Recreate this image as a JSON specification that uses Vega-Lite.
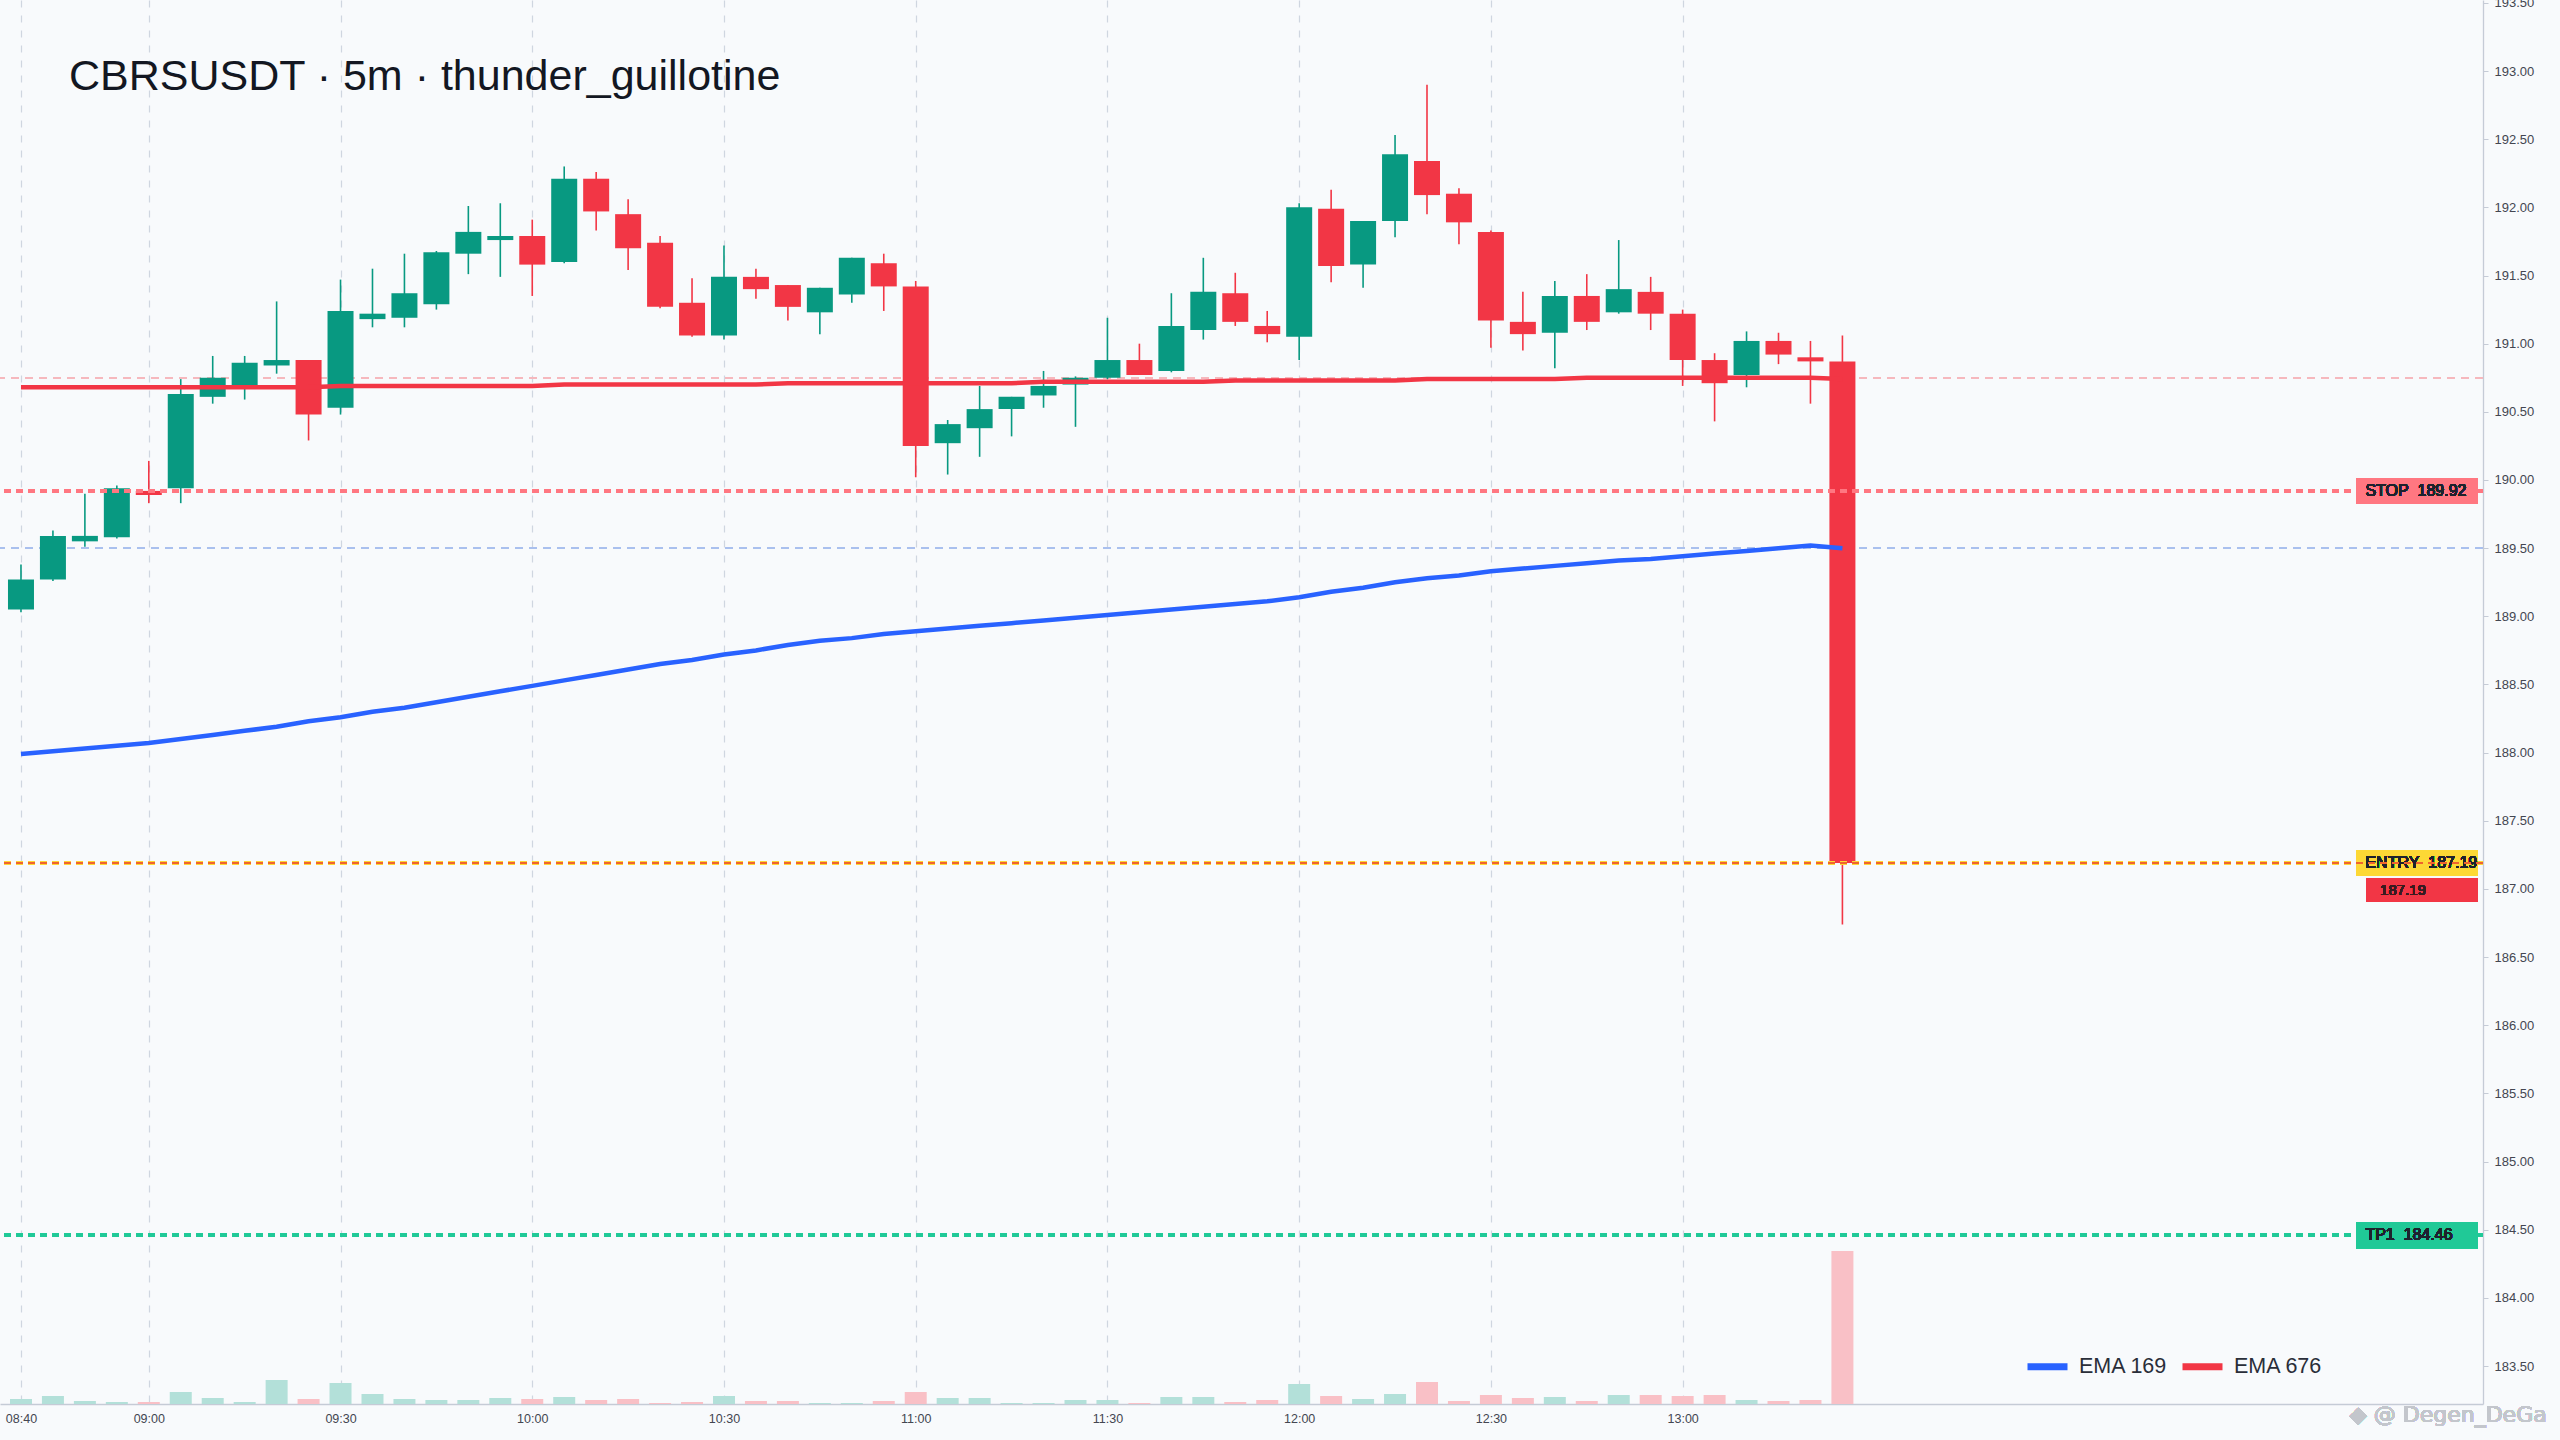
{
  "$schema": "https://vega.github.io/schema/vega-lite/v6.json",
  "width": 2483,
  "height": 1404,
  "autosize": {"type": "none"},
  "padding": {"left": 0, "top": 0, "right": 77, "bottom": 36},
  "background": "#f8fafc",
  "config": {
    "view": {"stroke": null},
    "font": "Liberation Sans"
  },
  "title": {
    "text": "CBRSUSDT · 5m · thunder_guillotine",
    "anchor": "start",
    "frame": "group",
    "orient": "top",
    "offset": 0,
    "dx": 69,
    "dy": 136,
    "baseline": "alphabetic",
    "fontSize": 43,
    "fontWeight": "normal",
    "color": "#131722",
    "font": "Liberation Sans"
  },
  "data": {
    "values": [
      {"t": "2024-01-01T08:40:00", "o": 189.05, "h": 189.38, "l": 189.03, "c": 189.27, "v": 500, "EMA 169": 187.99, "EMA 676": 190.68},
      {"t": "2024-01-01T08:45:00", "o": 189.27, "h": 189.63, "l": 189.26, "c": 189.59, "v": 800, "EMA 169": 188.01, "EMA 676": 190.68},
      {"t": "2024-01-01T08:50:00", "o": 189.55, "h": 189.90, "l": 189.51, "c": 189.59, "v": 300, "EMA 169": 188.03, "EMA 676": 190.68},
      {"t": "2024-01-01T08:55:00", "o": 189.58, "h": 189.96, "l": 189.57, "c": 189.94, "v": 200, "EMA 169": 188.05, "EMA 676": 190.68},
      {"t": "2024-01-01T09:00:00", "o": 189.92, "h": 190.14, "l": 189.83, "c": 189.89, "v": 200, "EMA 169": 188.07, "EMA 676": 190.68},
      {"t": "2024-01-01T09:05:00", "o": 189.94, "h": 190.74, "l": 189.83, "c": 190.63, "v": 1200, "EMA 169": 188.10, "EMA 676": 190.68},
      {"t": "2024-01-01T09:10:00", "o": 190.61, "h": 190.91, "l": 190.56, "c": 190.75, "v": 600, "EMA 169": 188.13, "EMA 676": 190.68},
      {"t": "2024-01-01T09:15:00", "o": 190.69, "h": 190.91, "l": 190.59, "c": 190.86, "v": 200, "EMA 169": 188.16, "EMA 676": 190.68},
      {"t": "2024-01-01T09:20:00", "o": 190.84, "h": 191.31, "l": 190.78, "c": 190.88, "v": 2400, "EMA 169": 188.19, "EMA 676": 190.68},
      {"t": "2024-01-01T09:25:00", "o": 190.88, "h": 190.88, "l": 190.29, "c": 190.48, "v": 500, "EMA 169": 188.23, "EMA 676": 190.68},
      {"t": "2024-01-01T09:30:00", "o": 190.53, "h": 191.47, "l": 190.48, "c": 191.24, "v": 2100, "EMA 169": 188.26, "EMA 676": 190.69},
      {"t": "2024-01-01T09:35:00", "o": 191.18, "h": 191.55, "l": 191.12, "c": 191.22, "v": 1000, "EMA 169": 188.30, "EMA 676": 190.69},
      {"t": "2024-01-01T09:40:00", "o": 191.19, "h": 191.66, "l": 191.12, "c": 191.37, "v": 500, "EMA 169": 188.33, "EMA 676": 190.69},
      {"t": "2024-01-01T09:45:00", "o": 191.29, "h": 191.68, "l": 191.25, "c": 191.67, "v": 400, "EMA 169": 188.37, "EMA 676": 190.69},
      {"t": "2024-01-01T09:50:00", "o": 191.66, "h": 192.01, "l": 191.51, "c": 191.82, "v": 400, "EMA 169": 188.41, "EMA 676": 190.69},
      {"t": "2024-01-01T09:55:00", "o": 191.76, "h": 192.03, "l": 191.49, "c": 191.79, "v": 600, "EMA 169": 188.45, "EMA 676": 190.69},
      {"t": "2024-01-01T10:00:00", "o": 191.79, "h": 191.91, "l": 191.35, "c": 191.58, "v": 500, "EMA 169": 188.49, "EMA 676": 190.69},
      {"t": "2024-01-01T10:05:00", "o": 191.60, "h": 192.30, "l": 191.59, "c": 192.21, "v": 700, "EMA 169": 188.53, "EMA 676": 190.70},
      {"t": "2024-01-01T10:10:00", "o": 192.21, "h": 192.26, "l": 191.83, "c": 191.97, "v": 400, "EMA 169": 188.57, "EMA 676": 190.70},
      {"t": "2024-01-01T10:15:00", "o": 191.95, "h": 192.06, "l": 191.54, "c": 191.70, "v": 500, "EMA 169": 188.61, "EMA 676": 190.70},
      {"t": "2024-01-01T10:20:00", "o": 191.74, "h": 191.79, "l": 191.26, "c": 191.27, "v": 100, "EMA 169": 188.65, "EMA 676": 190.70},
      {"t": "2024-01-01T10:25:00", "o": 191.30, "h": 191.48, "l": 191.05, "c": 191.06, "v": 200, "EMA 169": 188.68, "EMA 676": 190.70},
      {"t": "2024-01-01T10:30:00", "o": 191.06, "h": 191.72, "l": 191.03, "c": 191.49, "v": 800, "EMA 169": 188.72, "EMA 676": 190.70},
      {"t": "2024-01-01T10:35:00", "o": 191.49, "h": 191.55, "l": 191.33, "c": 191.40, "v": 300, "EMA 169": 188.75, "EMA 676": 190.70},
      {"t": "2024-01-01T10:40:00", "o": 191.43, "h": 191.43, "l": 191.17, "c": 191.27, "v": 300, "EMA 169": 188.79, "EMA 676": 190.71},
      {"t": "2024-01-01T10:45:00", "o": 191.23, "h": 191.41, "l": 191.07, "c": 191.41, "v": 100, "EMA 169": 188.82, "EMA 676": 190.71},
      {"t": "2024-01-01T10:50:00", "o": 191.36, "h": 191.63, "l": 191.30, "c": 191.63, "v": 100, "EMA 169": 188.84, "EMA 676": 190.71},
      {"t": "2024-01-01T10:55:00", "o": 191.59, "h": 191.66, "l": 191.24, "c": 191.42, "v": 300, "EMA 169": 188.87, "EMA 676": 190.71},
      {"t": "2024-01-01T11:00:00", "o": 191.42, "h": 191.46, "l": 190.02, "c": 190.25, "v": 1200, "EMA 169": 188.89, "EMA 676": 190.71},
      {"t": "2024-01-01T11:05:00", "o": 190.27, "h": 190.44, "l": 190.04, "c": 190.41, "v": 600, "EMA 169": 188.91, "EMA 676": 190.71},
      {"t": "2024-01-01T11:10:00", "o": 190.38, "h": 190.69, "l": 190.17, "c": 190.52, "v": 600, "EMA 169": 188.93, "EMA 676": 190.71},
      {"t": "2024-01-01T11:15:00", "o": 190.52, "h": 190.61, "l": 190.32, "c": 190.61, "v": 100, "EMA 169": 188.95, "EMA 676": 190.71},
      {"t": "2024-01-01T11:20:00", "o": 190.62, "h": 190.80, "l": 190.53, "c": 190.69, "v": 100, "EMA 169": 188.97, "EMA 676": 190.72},
      {"t": "2024-01-01T11:25:00", "o": 190.70, "h": 190.76, "l": 190.39, "c": 190.75, "v": 400, "EMA 169": 188.99, "EMA 676": 190.72},
      {"t": "2024-01-01T11:30:00", "o": 190.75, "h": 191.19, "l": 190.74, "c": 190.88, "v": 400, "EMA 169": 189.01, "EMA 676": 190.72},
      {"t": "2024-01-01T11:35:00", "o": 190.88, "h": 191.00, "l": 190.77, "c": 190.77, "v": 100, "EMA 169": 189.03, "EMA 676": 190.72},
      {"t": "2024-01-01T11:40:00", "o": 190.80, "h": 191.37, "l": 190.79, "c": 191.13, "v": 700, "EMA 169": 189.05, "EMA 676": 190.72},
      {"t": "2024-01-01T11:45:00", "o": 191.10, "h": 191.63, "l": 191.03, "c": 191.38, "v": 700, "EMA 169": 189.07, "EMA 676": 190.72},
      {"t": "2024-01-01T11:50:00", "o": 191.37, "h": 191.52, "l": 191.13, "c": 191.16, "v": 200, "EMA 169": 189.09, "EMA 676": 190.73},
      {"t": "2024-01-01T11:55:00", "o": 191.13, "h": 191.24, "l": 191.01, "c": 191.07, "v": 400, "EMA 169": 189.11, "EMA 676": 190.73},
      {"t": "2024-01-01T12:00:00", "o": 191.05, "h": 192.03, "l": 190.88, "c": 192.00, "v": 2000, "EMA 169": 189.14, "EMA 676": 190.73},
      {"t": "2024-01-01T12:05:00", "o": 191.99, "h": 192.13, "l": 191.45, "c": 191.57, "v": 800, "EMA 169": 189.18, "EMA 676": 190.73},
      {"t": "2024-01-01T12:10:00", "o": 191.58, "h": 191.90, "l": 191.41, "c": 191.90, "v": 500, "EMA 169": 189.21, "EMA 676": 190.73},
      {"t": "2024-01-01T12:15:00", "o": 191.90, "h": 192.53, "l": 191.78, "c": 192.39, "v": 1000, "EMA 169": 189.25, "EMA 676": 190.73},
      {"t": "2024-01-01T12:20:00", "o": 192.34, "h": 192.90, "l": 191.95, "c": 192.09, "v": 2200, "EMA 169": 189.28, "EMA 676": 190.74},
      {"t": "2024-01-01T12:25:00", "o": 192.10, "h": 192.14, "l": 191.73, "c": 191.89, "v": 300, "EMA 169": 189.30, "EMA 676": 190.74},
      {"t": "2024-01-01T12:30:00", "o": 191.82, "h": 191.83, "l": 190.97, "c": 191.17, "v": 900, "EMA 169": 189.33, "EMA 676": 190.74},
      {"t": "2024-01-01T12:35:00", "o": 191.16, "h": 191.38, "l": 190.95, "c": 191.07, "v": 600, "EMA 169": 189.35, "EMA 676": 190.74},
      {"t": "2024-01-01T12:40:00", "o": 191.08, "h": 191.46, "l": 190.82, "c": 191.35, "v": 700, "EMA 169": 189.37, "EMA 676": 190.74},
      {"t": "2024-01-01T12:45:00", "o": 191.35, "h": 191.51, "l": 191.10, "c": 191.16, "v": 300, "EMA 169": 189.39, "EMA 676": 190.75},
      {"t": "2024-01-01T12:50:00", "o": 191.23, "h": 191.76, "l": 191.22, "c": 191.40, "v": 900, "EMA 169": 189.41, "EMA 676": 190.75},
      {"t": "2024-01-01T12:55:00", "o": 191.38, "h": 191.49, "l": 191.10, "c": 191.22, "v": 900, "EMA 169": 189.42, "EMA 676": 190.75},
      {"t": "2024-01-01T13:00:00", "o": 191.22, "h": 191.25, "l": 190.69, "c": 190.88, "v": 800, "EMA 169": 189.44, "EMA 676": 190.75},
      {"t": "2024-01-01T13:05:00", "o": 190.88, "h": 190.93, "l": 190.43, "c": 190.71, "v": 900, "EMA 169": 189.46, "EMA 676": 190.75},
      {"t": "2024-01-01T13:10:00", "o": 190.77, "h": 191.09, "l": 190.68, "c": 191.02, "v": 400, "EMA 169": 189.48, "EMA 676": 190.75},
      {"t": "2024-01-01T13:15:00", "o": 191.02, "h": 191.08, "l": 190.85, "c": 190.92, "v": 300, "EMA 169": 189.50, "EMA 676": 190.75},
      {"t": "2024-01-01T13:20:00", "o": 190.90, "h": 191.02, "l": 190.56, "c": 190.87, "v": 400, "EMA 169": 189.52, "EMA 676": 190.75},
      {"t": "2024-01-01T13:25:00", "o": 190.87, "h": 191.06, "l": 186.74, "c": 187.19, "v": 15300, "EMA 169": 189.50, "EMA 676": 190.74}
    ]
  },
  "layer": [
    {
      "mark": {"type": "bar", "width": 22},
      "encoding": {
        "x": {
          "field": "t",
          "type": "temporal",
          "scale": {
            "domain": [
              {"year": 2024, "month": 1, "date": 1, "hours": 8, "minutes": 37, "seconds": 30},
              {"year": 2024, "month": 1, "date": 1, "hours": 15, "minutes": 4, "seconds": 27}
            ],
            "nice": false
          },
          "axis": {
            "orient": "bottom",
            "title": null,
            "values": [
              {"year": 2024, "month": 1, "date": 1, "hours": 8, "minutes": 40},
              {"year": 2024, "month": 1, "date": 1, "hours": 9, "minutes": 0},
              {"year": 2024, "month": 1, "date": 1, "hours": 9, "minutes": 30},
              {"year": 2024, "month": 1, "date": 1, "hours": 10, "minutes": 0},
              {"year": 2024, "month": 1, "date": 1, "hours": 10, "minutes": 30},
              {"year": 2024, "month": 1, "date": 1, "hours": 11, "minutes": 0},
              {"year": 2024, "month": 1, "date": 1, "hours": 11, "minutes": 30},
              {"year": 2024, "month": 1, "date": 1, "hours": 12, "minutes": 0},
              {"year": 2024, "month": 1, "date": 1, "hours": 12, "minutes": 30},
              {"year": 2024, "month": 1, "date": 1, "hours": 13, "minutes": 0}
            ],
            "format": "%H:%M",
            "labelFont": "Liberation Sans",
            "labelFontSize": 12.5,
            "labelColor": "#434651",
            "labelPadding": 8,
            "labelFlush": 20,
            "labelFlushOffset": 8,
            "labelOverlap": false,
            "ticks": false,
            "domainColor": "#c5cbd6",
            "domainWidth": 1.3,
            "gridColor": "#cfd6e0",
            "gridDash": [7, 8],
            "gridWidth": 1.2
          }
        },
        "y": {
          "field": "v",
          "type": "quantitative",
          "scale": {"domain": [0, 140400], "nice": false, "zero": true},
          "axis": null
        },
        "color": {
          "condition": {"test": "datum.c >= datum.o", "value": "#b3e0d9"},
          "value": "#f9c0c6"
        }
      }
    },
    {
      "layer": [
        {
          "mark": {"type": "rule", "color": "#f6b8bd", "strokeWidth": 1.5, "strokeDash": [8, 6]},
          "encoding": {
            "y": {
              "datum": 190.75,
              "type": "quantitative",
              "scale": {"domain": [183.222, 193.521], "nice": false, "zero": false},
              "axis": {
                "orient": "right",
                "title": null,
                "values": [183.5, 184, 184.5, 185, 185.5, 186, 186.5, 187, 187.5, 188, 188.5, 189, 189.5, 190, 190.5, 191, 191.5, 192, 192.5, 193, 193.5],
                "format": ".2f",
                "labelFont": "Liberation Sans",
                "labelFontSize": 13,
                "labelColor": "#434651",
                "labelPadding": 6,
                "tickSize": 5,
                "tickColor": "#c5cbd6",
                "domainColor": "#c5cbd6",
                "domainWidth": 1.3,
                "gridColor": "#c9d0db",
                "gridWidth": 1.2
              }
            }
          }
        },
        {
          "mark": {"type": "rule", "color": "#a9c0ee", "strokeWidth": 1.5, "strokeDash": [8, 6]},
          "encoding": {"y": {"datum": 189.5, "type": "quantitative"}}
        },
        {
          "mark": {"type": "rule", "strokeWidth": 1.6},
          "encoding": {
            "x": {"field": "t", "type": "temporal"},
            "y": {"field": "l", "type": "quantitative"},
            "y2": {"field": "h"},
            "color": {
              "condition": {"test": "datum.c >= datum.o", "value": "#089981"},
              "value": "#f23645"
            }
          }
        },
        {
          "mark": {"type": "bar", "width": 26},
          "encoding": {
            "x": {"field": "t", "type": "temporal"},
            "y": {"field": "o", "type": "quantitative"},
            "y2": {"field": "c"},
            "color": {
              "condition": {"test": "datum.c >= datum.o", "value": "#089981"},
              "value": "#f23645"
            }
          }
        },
        {
          "transform": [{"fold": ["EMA 169", "EMA 676"], "as": ["series", "ema"]}],
          "mark": {"type": "line", "strokeWidth": 4.5},
          "encoding": {
            "x": {"field": "t", "type": "temporal"},
            "y": {"field": "ema", "type": "quantitative"},
            "color": {
              "field": "series",
              "type": "nominal",
              "scale": {"domain": ["EMA 169", "EMA 676"], "range": ["#2962ff", "#f23645"]},
              "legend": {
                "orient": "none",
                "legendX": 2024,
                "legendY": 1343,
                "direction": "horizontal",
                "title": null,
                "padding": 0,
                "labelFont": "Liberation Sans",
                "labelFontSize": 21.5,
                "labelColor": "#2a2e39",
                "labelOffset": 8,
                "columnPadding": 0,
                "symbolType": "stroke",
                "symbolSize": 1600,
                "symbolStrokeWidth": 7
              }
            }
          }
        },
        {
          "mark": {"type": "rule", "color": "#ff7781", "strokeWidth": 3.7, "strokeDash": [7, 5]},
          "encoding": {"y": {"datum": 189.92, "type": "quantitative"}}
        },
        {
          "mark": {"type": "rule", "color": "#fdd835", "strokeWidth": 4, "strokeDash": [7, 5]},
          "encoding": {"y": {"datum": 187.19, "type": "quantitative"}}
        },
        {
          "mark": {"type": "rule", "color": "#20c997", "strokeWidth": 3.7, "strokeDash": [7, 5]},
          "encoding": {"y": {"datum": 184.46, "type": "quantitative"}}
        },
        {
          "mark": {"type": "rect", "height": 26, "color": "#ff7781"},
          "encoding": {
            "x": {"datum": {"year": 2024, "month": 1, "date": 1, "hours": 14, "minutes": 45, "seconds": 26}, "type": "temporal"},
            "x2": {"datum": {"year": 2024, "month": 1, "date": 1, "hours": 15, "minutes": 4, "seconds": 27}},
            "y": {"datum": 189.92, "type": "quantitative"}
          }
        },
        {
          "mark": {"type": "rect", "height": 26, "color": "#fdd835"},
          "encoding": {
            "x": {"datum": {"year": 2024, "month": 1, "date": 1, "hours": 14, "minutes": 45, "seconds": 26}, "type": "temporal"},
            "x2": {"datum": {"year": 2024, "month": 1, "date": 1, "hours": 15, "minutes": 4, "seconds": 27}},
            "y": {"datum": 187.19, "type": "quantitative"}
          }
        },
        {
          "mark": {"type": "rect", "height": 23, "color": "#f23645"},
          "encoding": {
            "x": {"datum": {"year": 2024, "month": 1, "date": 1, "hours": 14, "minutes": 47, "seconds": 0}, "type": "temporal"},
            "x2": {"datum": {"year": 2024, "month": 1, "date": 1, "hours": 15, "minutes": 4, "seconds": 27}},
            "y": {"datum": 186.99, "type": "quantitative"}
          }
        },
        {
          "mark": {"type": "rect", "height": 26, "color": "#20c997"},
          "encoding": {
            "x": {"datum": {"year": 2024, "month": 1, "date": 1, "hours": 14, "minutes": 45, "seconds": 26}, "type": "temporal"},
            "x2": {"datum": {"year": 2024, "month": 1, "date": 1, "hours": 15, "minutes": 4, "seconds": 27}},
            "y": {"datum": 184.46, "type": "quantitative"}
          }
        },
        {
          "mark": {"type": "text", "align": "left", "baseline": "middle", "fontSize": 16, "fontWeight": "normal", "color": "#1e222d", "text": "STOP\u00a0\u00a0189.92"},
          "encoding": {
            "x": {"datum": {"year": 2024, "month": 1, "date": 1, "hours": 14, "minutes": 46, "seconds": 50}, "type": "temporal"},
            "y": {"datum": 189.92, "type": "quantitative"}
          }
        },
        {
          "mark": {"type": "text", "align": "left", "baseline": "middle", "fontSize": 16, "fontWeight": "normal", "color": "#1e222d", "text": "ENTRY\u00a0\u00a0187.19"},
          "encoding": {
            "x": {"datum": {"year": 2024, "month": 1, "date": 1, "hours": 14, "minutes": 46, "seconds": 50}, "type": "temporal"},
            "y": {"datum": 187.19, "type": "quantitative"}
          }
        },
        {
          "mark": {"type": "text", "align": "left", "baseline": "middle", "fontSize": 15, "fontWeight": "normal", "color": "#3a1b20", "text": "187.19"},
          "encoding": {
            "x": {"datum": {"year": 2024, "month": 1, "date": 1, "hours": 14, "minutes": 49, "seconds": 8}, "type": "temporal"},
            "y": {"datum": 186.99, "type": "quantitative"}
          }
        },
        {
          "mark": {"type": "text", "align": "left", "baseline": "middle", "fontSize": 16, "fontWeight": "normal", "color": "#1e222d", "text": "TP1\u00a0\u00a0184.46"},
          "encoding": {
            "x": {"datum": {"year": 2024, "month": 1, "date": 1, "hours": 14, "minutes": 46, "seconds": 50}, "type": "temporal"},
            "y": {"datum": 184.46, "type": "quantitative"}
          }
        },
        {
          "mark": {"type": "rule", "color": "#f0642e", "strokeWidth": 1.3, "strokeDash": [7, 5]},
          "encoding": {"y": {"datum": 187.19, "type": "quantitative"}}
        },
        {
          "mark": {"type": "text", "align": "right", "baseline": "middle", "fontSize": 22, "font": "DejaVu Sans", "color": "#c3c6cc", "text": "◈ @ Degen_DeGa"},
          "encoding": {
            "x": {"datum": {"year": 2024, "month": 1, "date": 1, "hours": 15, "minutes": 15, "seconds": 12}, "type": "temporal"},
            "y": {"datum": 183.141, "type": "quantitative"}
          }
        }
      ]
    }
  ],
  "resolve": {"scale": {"y": "independent"}}
}
